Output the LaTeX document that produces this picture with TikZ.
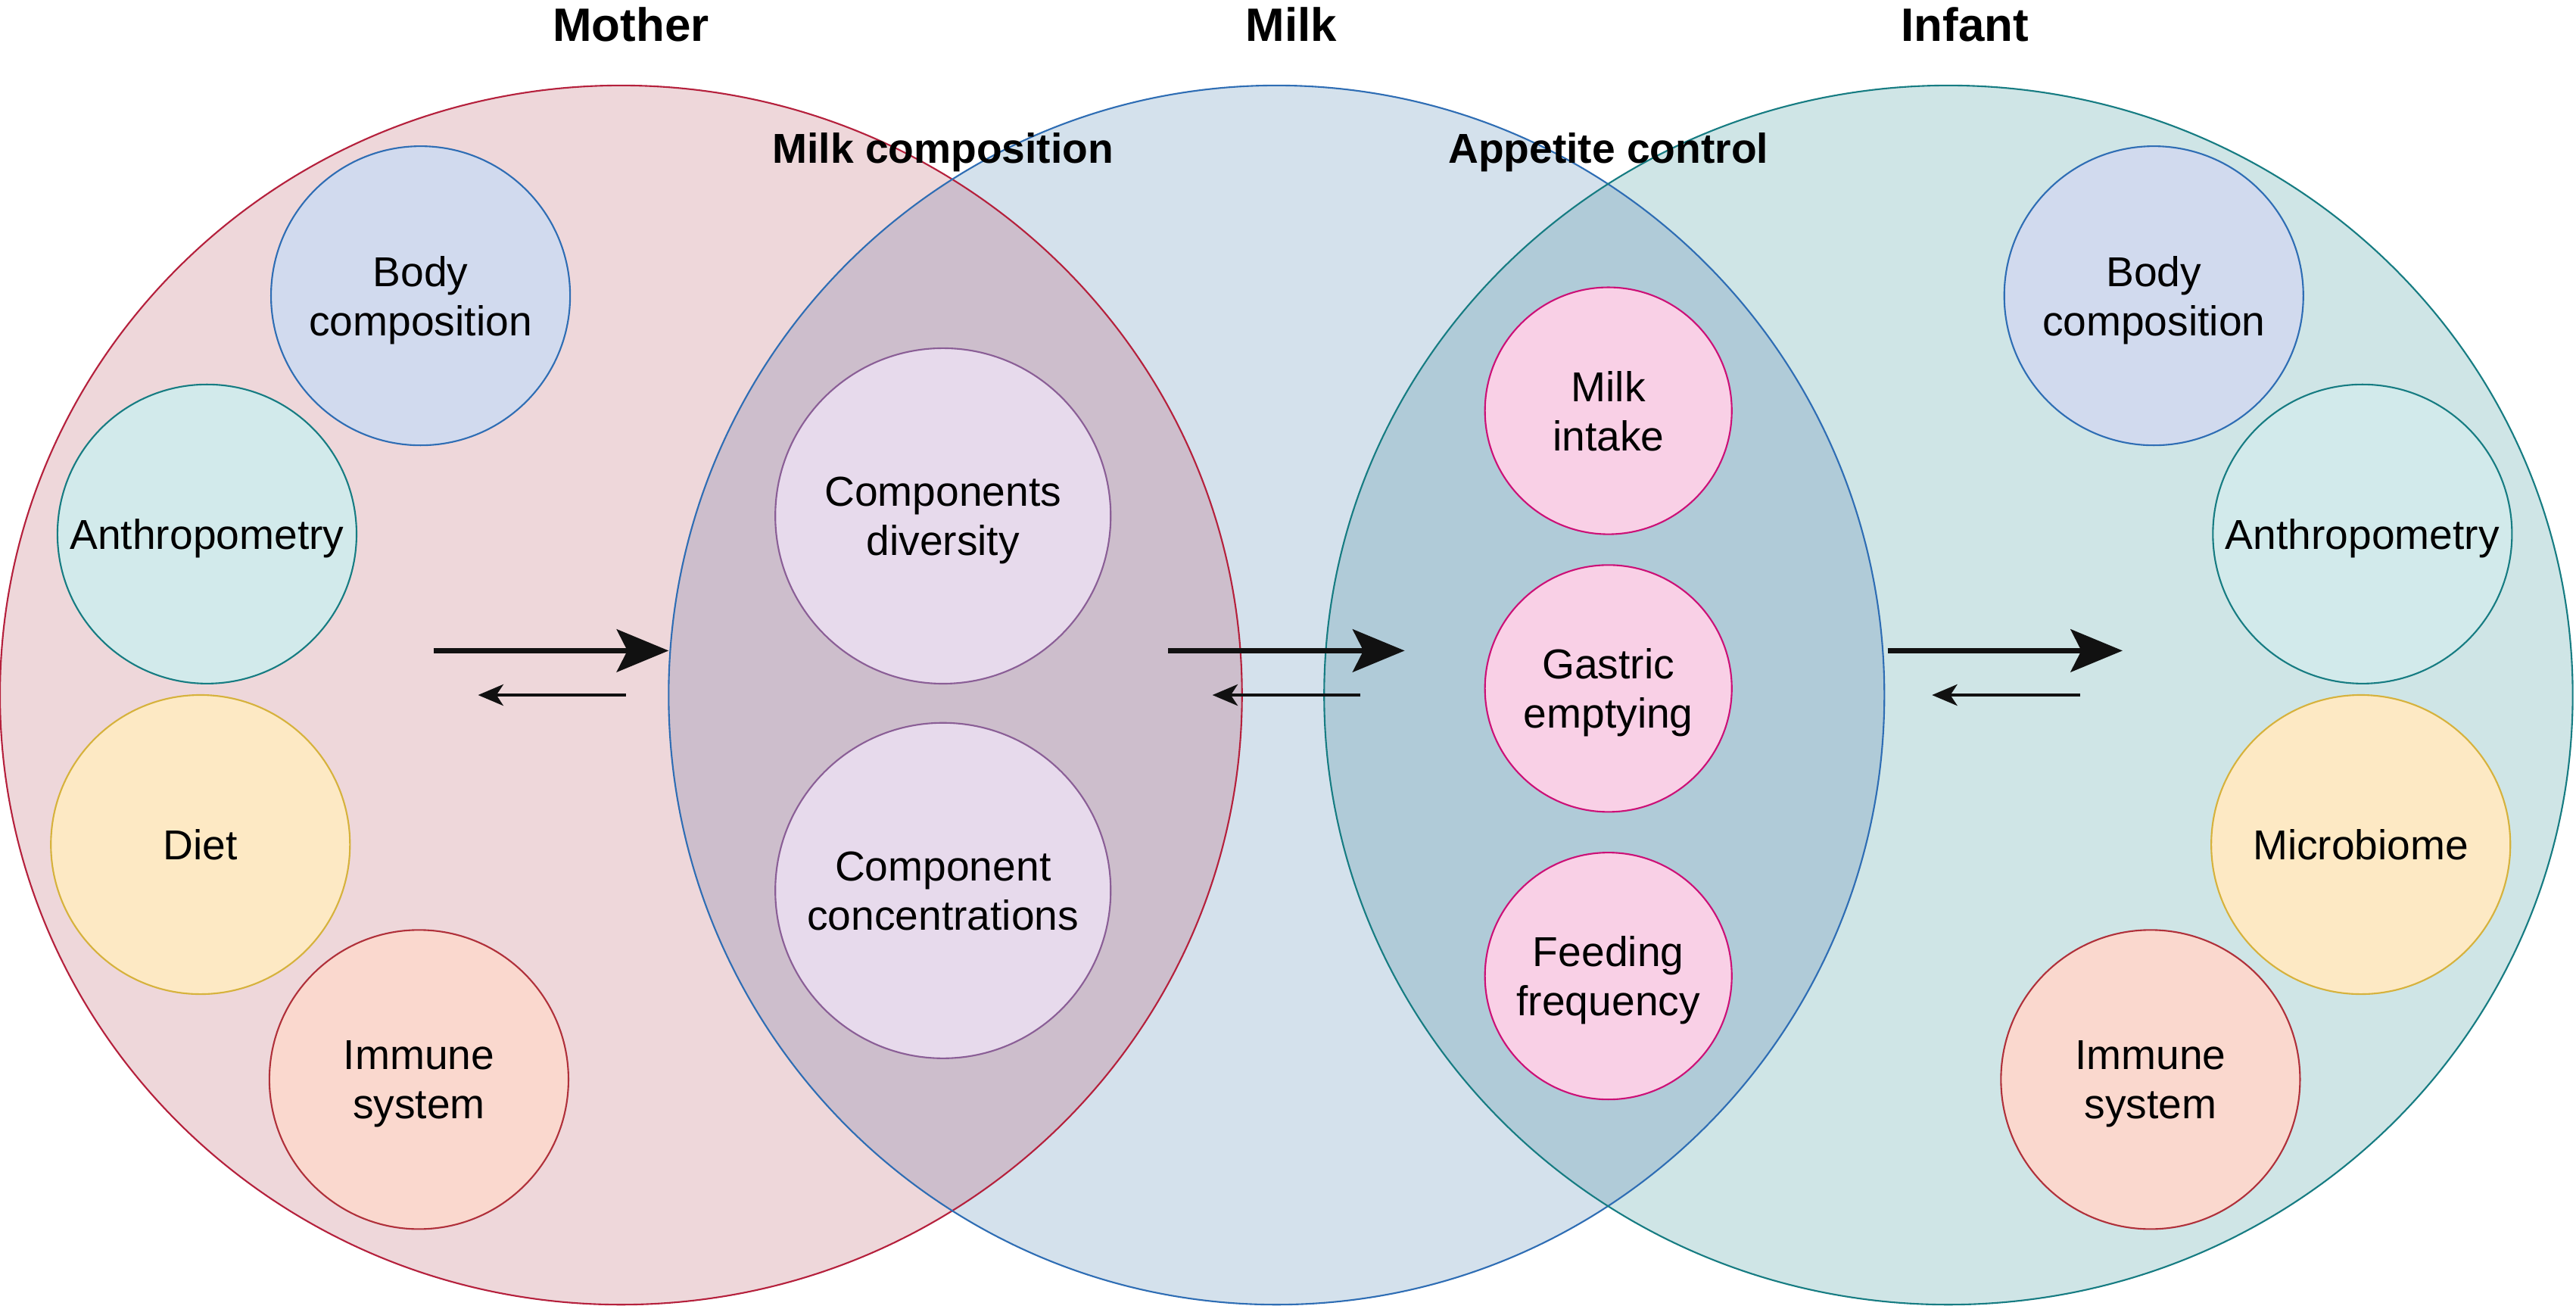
\documentclass[tikz,border=0pt]{standalone}
\usepackage{fontspec}
\setmainfont{Liberation Sans}
\usetikzlibrary{shapes.geometric,arrows.meta}
\definecolor{mothF}{HTML}{EED7DA}
\definecolor{mothD}{HTML}{B5203C}
\definecolor{milkF}{HTML}{D4E1EC}
\definecolor{milkD}{HTML}{2E6DB4}
\definecolor{infF}{HTML}{CFE5E6}
\definecolor{infD}{HTML}{167C82}
\definecolor{mmF}{HTML}{CDBECC}
\definecolor{miF}{HTML}{B0CBD8}
\definecolor{bodyF}{HTML}{D1DAEE}
\definecolor{bodyD}{HTML}{2E6DB4}
\definecolor{antF}{HTML}{D2EAEB}
\definecolor{antD}{HTML}{167C82}
\definecolor{dietF}{HTML}{FDE9C4}
\definecolor{dietD}{HTML}{D6B23C}
\definecolor{immF}{HTML}{FAD8CE}
\definecolor{immD}{HTML}{B0303A}
\definecolor{compF}{HTML}{E7DAEC}
\definecolor{compD}{HTML}{8A5E96}
\definecolor{appF}{HTML}{F9D0E6}
\definecolor{appD}{HTML}{CC1077}
\definecolor{arrowC}{HTML}{111111}
\begin{document}
\begin{tikzpicture}[x=0.0217028cm,y=-0.0217028cm,
  bubble/.style={circle, inner sep=0pt, line width=0.6pt, align=center, text depth=0pt, font=\fontsize{15.7pt}{18.5pt}\selectfont},
  side/.style={bubble, minimum size=3.95cm},
  compbub/.style={bubble, minimum size=4.43cm, draw=compD, fill=compF},
  appbub/.style={bubble, minimum size=3.26cm, draw=appD, fill=appF},
  bodybub/.style={side, draw=bodyD, fill=bodyF},
  antbub/.style={side, draw=antD, fill=antF},
  dietbub/.style={side, draw=dietD, fill=dietF},
  immbub/.style={side, draw=immD, fill=immF},
  title/.style={text depth=0pt, font=\fontsize{17.6pt}{20pt}\selectfont\bfseries},
  subtitle/.style={text depth=0pt, font=\fontsize{15.7pt}{18.5pt}\selectfont\bfseries},
  bigarrow/.style={-{Stealth[length=19.5pt,width=16pt,inset=4pt]}, line width=2pt, draw=arrowC},
  smallarrow/.style={-{Stealth[length=9.5pt,width=8pt,inset=2.6pt]}, line width=1.1pt, draw=arrowC},
  bigline/.style={line width=0.6pt}
]
\useasboundingbox (0,0) rectangle (1568,794.8);
\fill[white] (0,0) rectangle (1568,794.8);
% centres of the three large ellipses
\coordinate (cM) at (378,423);
\coordinate (cK) at (777,423);
\coordinate (cI) at (1186,423);
% fills
\fill[mothF] (cM) ellipse [x radius=378, y radius=371];
\fill[milkF] (cK) ellipse [x radius=370, y radius=371];
\fill[infF] (cI) ellipse [x radius=380, y radius=371];
\begin{scope}
  \clip (cM) ellipse [x radius=378, y radius=371];
  \fill[mmF] (cK) ellipse [x radius=370, y radius=371];
\end{scope}
\begin{scope}
  \clip (cK) ellipse [x radius=370, y radius=371];
  \fill[miF] (cI) ellipse [x radius=380, y radius=371];
\end{scope}
% outlines
\draw[bigline, mothD] (cM) ellipse [x radius=378, y radius=371];
\draw[bigline, milkD] (cK) ellipse [x radius=370, y radius=371];
\draw[bigline, infD] (cI) ellipse [x radius=380, y radius=371];
% titles
\node[title] (tMother) at (384,15) {Mother};
\node[title] (tMilk) at (786,15) {Milk};
\node[title] (tInfant) at (1196,15) {Infant};
\node[subtitle] (tComp) at (574,90) {Milk composition};
\node[subtitle] (tApp) at (979,90) {Appetite control};
% mother bubbles
\node[bodybub] (mBody) at (256,180) {Body\\composition};
\node[antbub] (mAnt) at (126,325) {Anthropometry};
\node[dietbub] (mDiet) at (122,514) {Diet};
\node[immbub] (mImm) at (255,657) {Immune\\system};
% milk composition bubbles
\node[compbub] (cDiv) at (574,314) {Components\\diversity};
\node[compbub] (cConc) at (574,542) {Component\\concentrations};
% appetite bubbles
\node[appbub] (aIntake) at (979,250) {Milk\\intake};
\node[appbub] (aGastric) at (979,419) {Gastric\\emptying};
\node[appbub] (aFreq) at (979,594) {Feeding\\frequency};
% infant bubbles
\node[bodybub] (iBody) at (1311,180) {Body\\composition};
\node[antbub] (iAnt) at (1438,325) {Anthropometry};
\node[dietbub] (iMicro) at (1437,514) {Microbiome};
\node[immbub] (iImm) at (1309,657) {Immune\\system};
% arrows
\coordinate (a1s) at (264,396); \coordinate (a1e) at (407,396);
\coordinate (b1s) at (381,423); \coordinate (b1e) at (291,423);
\coordinate (a2s) at (711,396); \coordinate (a2e) at (855,396);
\coordinate (b2s) at (828,423); \coordinate (b2e) at (738,423);
\coordinate (a3s) at (1149,396); \coordinate (a3e) at (1292,396);
\coordinate (b3s) at (1266,423); \coordinate (b3e) at (1176,423);
\draw[bigarrow] (a1s) -- (a1e);
\draw[smallarrow] (b1s) -- (b1e);
\draw[bigarrow] (a2s) -- (a2e);
\draw[smallarrow] (b2s) -- (b2e);
\draw[bigarrow] (a3s) -- (a3e);
\draw[smallarrow] (b3s) -- (b3e);
\end{tikzpicture}
\end{document}
